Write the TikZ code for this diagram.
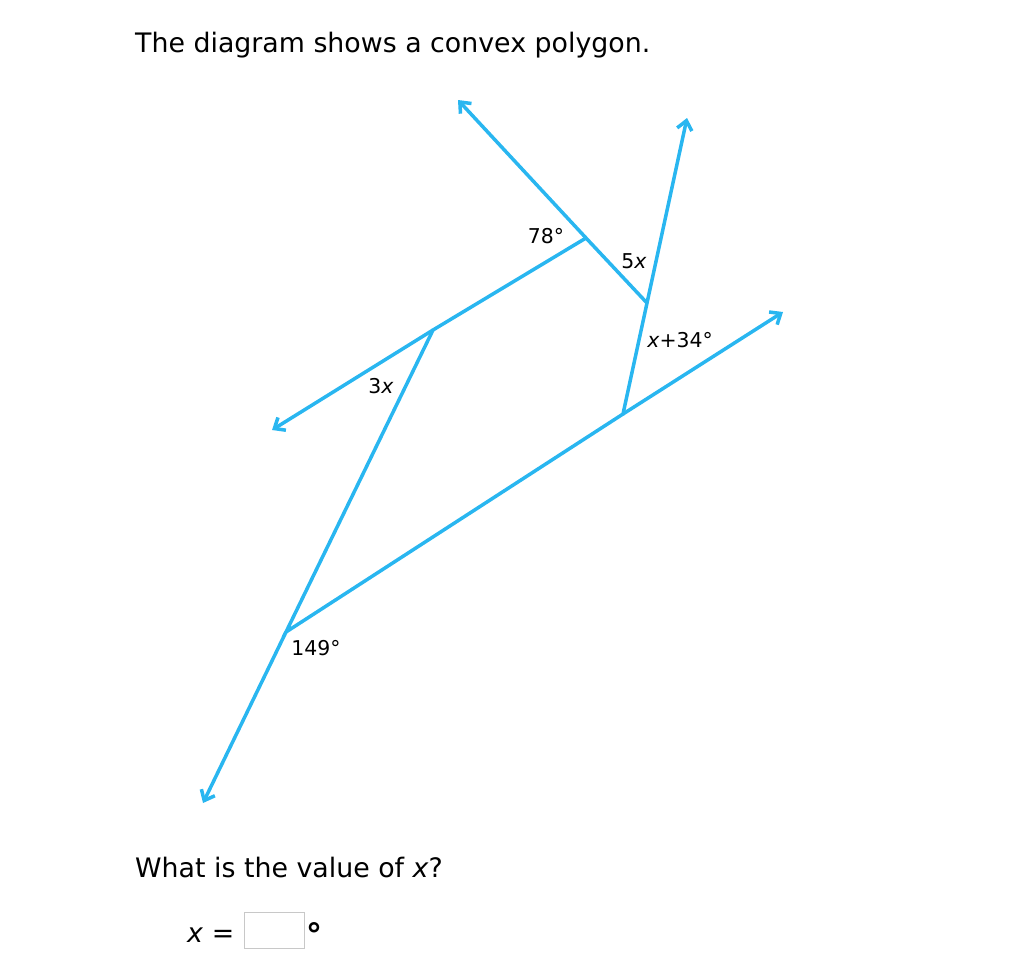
\documentclass[tikz,border=0pt]{standalone}
\usepackage{fontspec}
\setmainfont{DejaVu Sans}
\usepackage{tikz}
\usetikzlibrary{arrows.meta}
\usetikzlibrary{positioning,calc}
\definecolor{rayBlue}{RGB}{41,182,240}
\definecolor{boxGray}{RGB}{200,200,200}

\begin{document}
\begin{tikzpicture}[x=1pt,y=-1pt]
	%defines
	\tikzstyle{side} = [line width=3.5pt, draw=rayBlue, line join=miter]
	\tikzstyle{ray} = [line width=3.5pt, draw=rayBlue, -{Straight Barb[length=9pt,width=15pt]}]
	\tikzstyle{angleLabel} = [font=\fontsize{20.4}{24}\selectfont, inner sep=0pt]
	\tikzstyle{question} = [font=\fontsize{26.8}{32}\selectfont, anchor=base west, inner sep=0pt]
	\useasboundingbox (0,0) rectangle (1024,967);
	%vertices
	\coordinate (A) at (286,632);
	\coordinate (B) at (433,330);
	\coordinate (C) at (586,238);
	\coordinate (D) at (647,303);
	\coordinate (E) at (623,414);
	%ray ends
	\coordinate (tipA) at (203,803);
	\coordinate (tipB) at (272,430);
	\coordinate (tipC) at (458,100);
	\coordinate (tipD) at (687,118);
	\coordinate (tipE) at (783,312);
	%polygon
	\draw [side] (A) -- (B) -- (C) -- (D) -- (E) -- cycle;
	\draw [ray] (A) -- (tipA);
	\draw [ray] (B) -- (tipB);
	\draw [ray] (C) -- (tipC);
	\draw [ray] (D) -- (tipD);
	\draw [ray] (E) -- (tipE);
	%angles
	\node (angC) [angleLabel] at (546,236) {78°};
	\node (angD) [angleLabel] at (634,261) {5\textit{x}};
	\node (angE) [angleLabel] at (680,340) {\textit{x}+34°};
	\node (angB) [angleLabel] at (381,386) {3\textit{x}};
	\node (angA) [angleLabel] at (316,648) {149°};
	%text
	\node (title) [question] at (135,52) {The diagram shows a convex polygon.};
	\node (ask) [question] at (135,877) {What is the value of \textit{x}?};
	\node (xEq) [question] at (187,942) {\textit{x} =};
	\node (answerBox) [draw=boxGray, line width=1.5pt, minimum width=60pt, minimum height=36pt, inner sep=0pt] at (274.5,930.5) {};
	\node (degSign) [font=\fontsize{32}{36}\selectfont\bfseries, inner sep=0pt] at (314,934) {°};
\end{tikzpicture}
\end{document}
